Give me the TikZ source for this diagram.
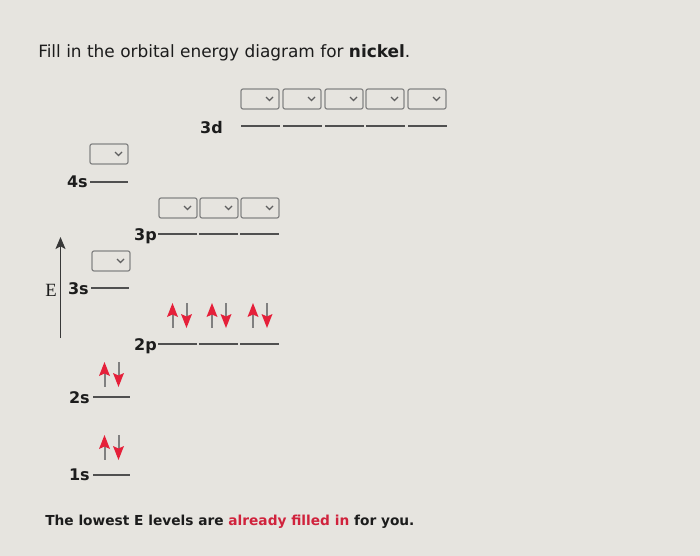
\documentclass[tikz,border=0pt]{standalone}
\usepackage{fontspec}
\usetikzlibrary{arrows.meta}
\setmainfont{DejaVu Sans}
\newfontfamily\serifE{Liberation Serif}
\definecolor{bgc}{HTML}{E6E4DF}
\definecolor{lnc}{HTML}{505050}
\definecolor{bxc}{HTML}{858585}
\definecolor{chc}{HTML}{606060}
\definecolor{redc}{HTML}{E5203A}
\definecolor{txtred}{HTML}{D0223C}
\definecolor{shc}{HTML}{808080}
\definecolor{txc}{HTML}{1C1C1C}
\begin{document}
\begin{tikzpicture}[x=0.75pt,y=-0.75pt,
  ddbox/.pic={
    \draw[bxc, line width=0.9pt, rounded corners=1.5pt] (0,0) rectangle (38,20);
    \draw[chc, line width=0.9pt] (25,8) -- (28.5,11.5) -- (32,8);
  },
  uparr/.pic={
    \draw[shc, line width=1.5pt] (0,11) -- (0,25);
    \fill[redc] (0,0) -- (5.5,14) -- (0,11.5) -- (-5.5,14) -- cycle;
  },
  dnarr/.pic={
    \draw[shc, line width=1.5pt] (0,0) -- (0,14);
    \fill[redc] (0,25) -- (5.5,11) -- (0,13.5) -- (-5.5,11) -- cycle;
  },
  pairarr/.pic={
    \pic at (-7,0) {uparr};
    \pic at (7,0) {dnarr};
  },
  lvl/.style={lnc, line width=1.4pt},
  lab/.style={font=\bfseries\fontsize{12}{14}\selectfont, text=txc, anchor=base east, inner sep=0pt},
]
\fill[bgc] (0,0) rectangle (700,556);
\useasboundingbox (0,0) rectangle (700,556);

% title
\node[anchor=base west, inner sep=0pt, text=txc, font=\fontsize{12.7}{15}\selectfont] (title) at (38,58)
  {Fill in the orbital energy diagram for \textbf{nickel}.};

% 3d
\node[lab] (l3d) at (223,134) {3d};
\foreach \x in {241,283,325,366,408} {
  \pic at (\x,89) {ddbox};
  \draw[lvl] (\x,126) -- ++(39,0);
}

% 4s
\node[lab] (l4s) at (88,188) {4s};
\pic at (90,144) {ddbox};
\draw[lvl] (90,182) -- (128,182);

% 3p
\node[lab] (l3p) at (157,240) {3p};
\foreach \x in {159,200,241} {
  \pic at (\x,198) {ddbox};
  \draw[lvl] (\x-1,234) -- ++(39,0);
}

% 3s
\node[lab] (l3s) at (89,294) {3s};
\pic at (92,251) {ddbox};
\draw[lvl] (91,288) -- (129,288);

% energy axis
\coordinate (ebot) at (60.5,338);
\coordinate (etop) at (60.5,237);
\draw[lnc!70!black, line width=1.2pt, -{Stealth[length=9pt,width=7.5pt,inset=2pt]}] (ebot) -- (etop);
\node[text=txc, font=\serifE\fontsize{14}{16}\selectfont, inner sep=0pt] (elab) at (51,290) {E};

% 2p
\node[lab] (l2p) at (157,350) {2p};
\foreach \x/\c in {159/179.5,200/219,241/260} {
  \draw[lvl] (\x-1,344) -- ++(39,0);
  \pic at (\c,303) {pairarr};
}

% 2s
\node[lab] (l2s) at (90,403) {2s};
\draw[lvl] (93,397) -- (130,397);
\pic at (111.5,362) {pairarr};

% 1s
\node[lab] (l1s) at (90,480) {1s};
\draw[lvl] (93,475) -- (130,475);
\pic at (111.5,435) {pairarr};

% footer
\node[anchor=base west, inner sep=0pt, text=txc, font=\bfseries\fontsize{10.3}{13}\selectfont] (foot) at (45,525)
  {The lowest E levels are \textcolor{txtred}{already filled in} for you.};
\end{tikzpicture}
\end{document}
